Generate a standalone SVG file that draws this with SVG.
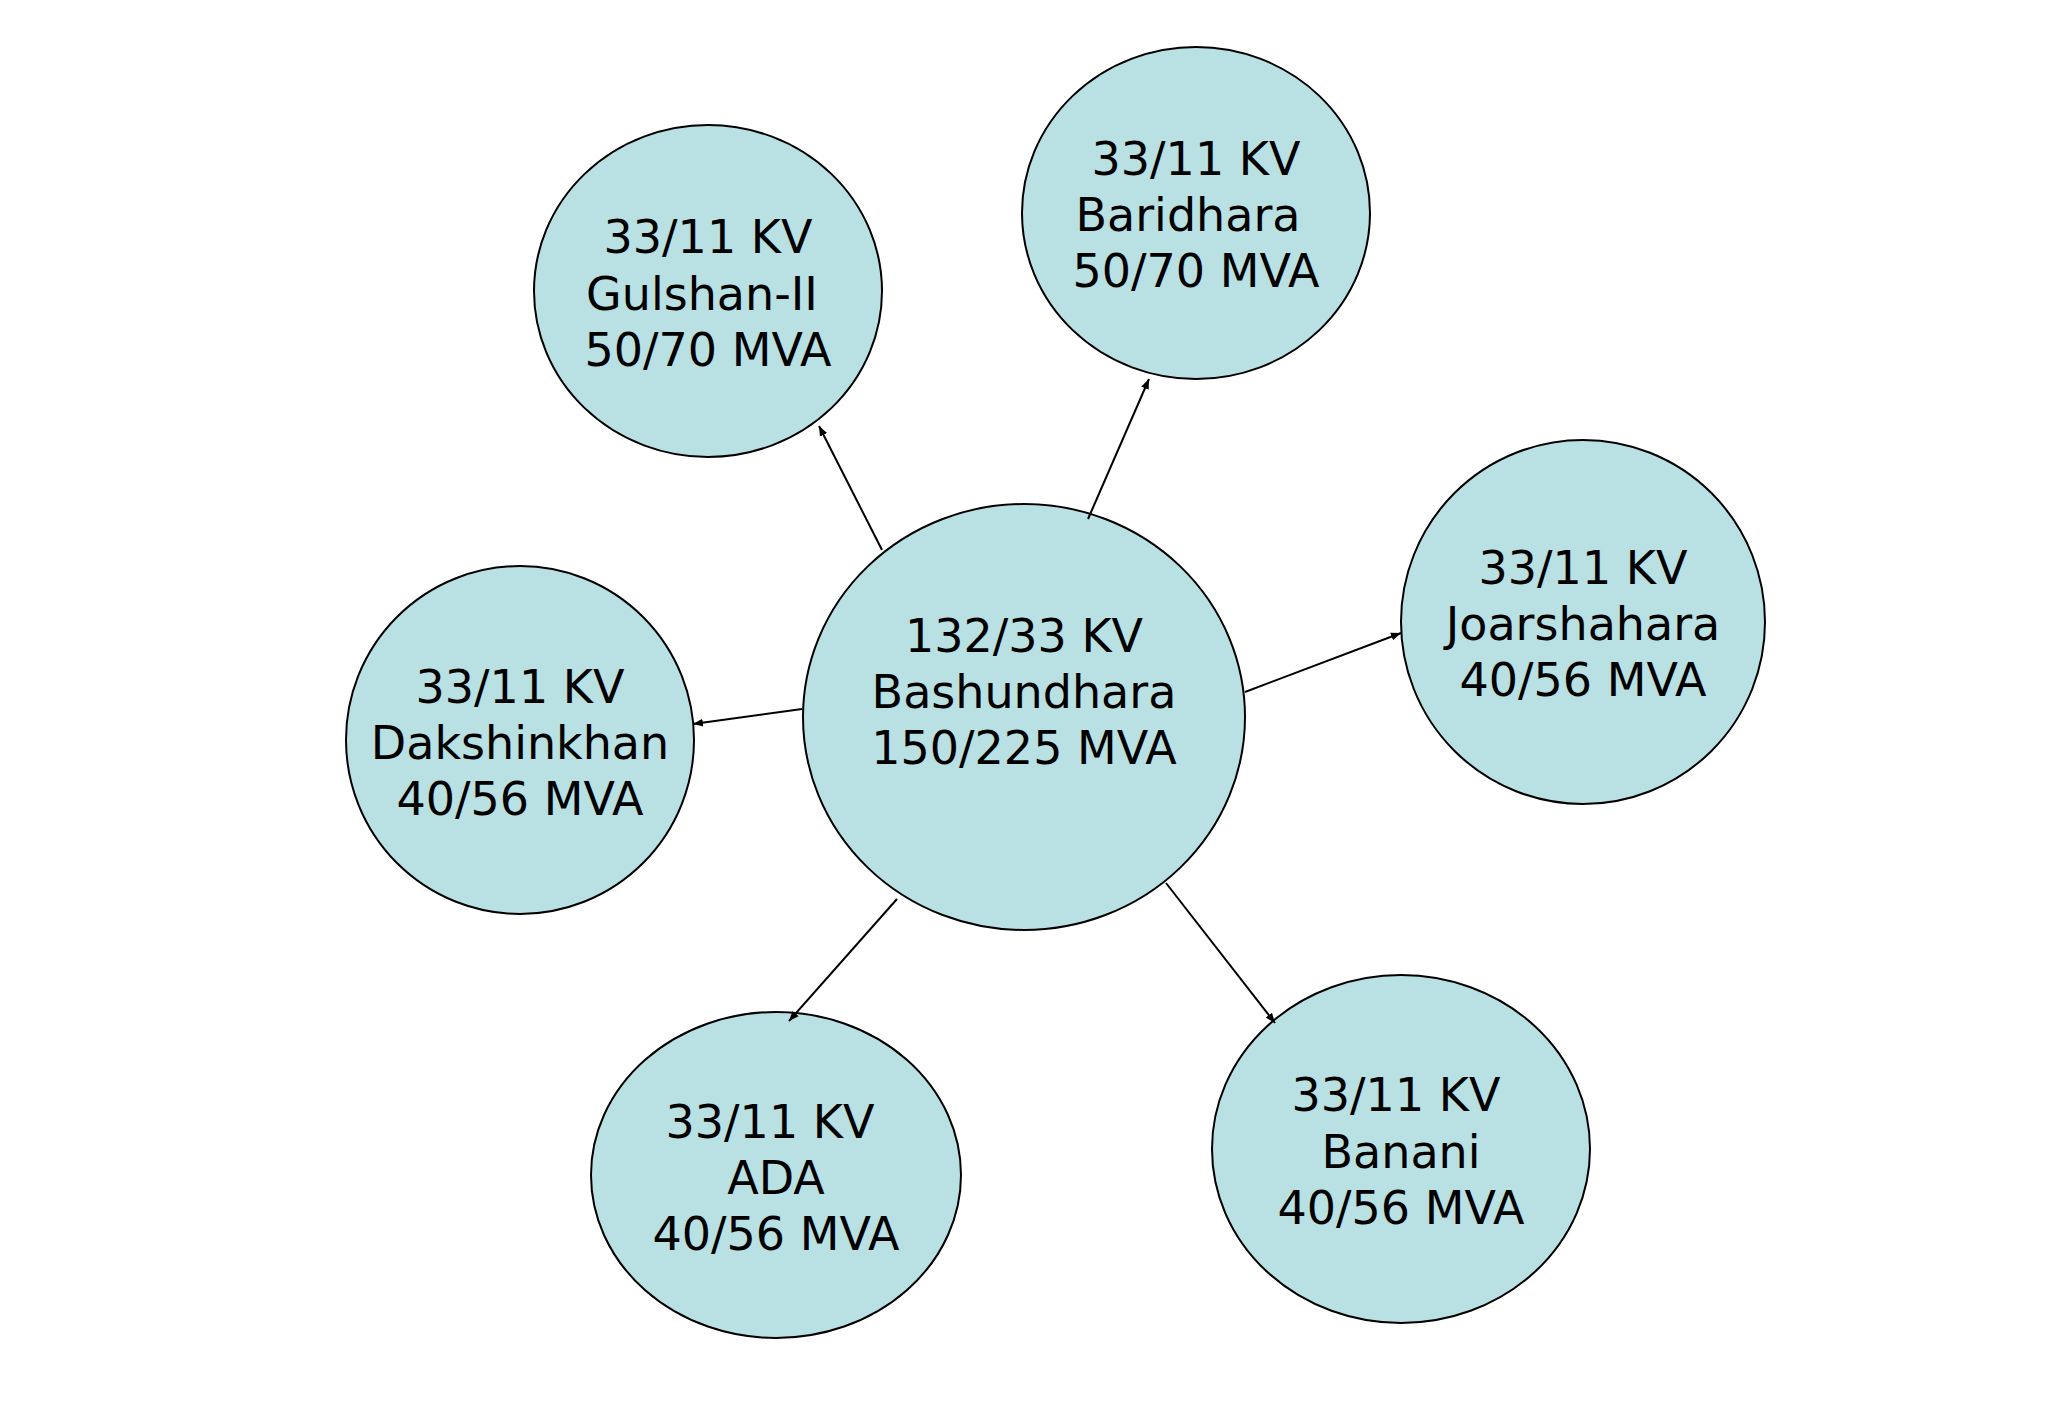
<svg xmlns="http://www.w3.org/2000/svg" width="2048" height="1418" viewBox="0 0 2048 1418">
<style>
.n{fill:#b9e0e2;stroke:#000;stroke-width:2}
.t{font-family:"DejaVu Sans",Verdana,sans-serif;font-size:46px;fill:#000;text-anchor:middle}
.c{stroke:#000;stroke-width:2;fill:none;marker-end:url(#a)}
</style>
<defs><marker id="a" viewBox="0 0 10 10" refX="10" refY="5" markerWidth="10" markerHeight="10" markerUnits="userSpaceOnUse" orient="auto"><path d="M0,1 L10,5 L0,9 z" fill="#000"/></marker></defs>
<rect width="2048" height="1418" fill="#fff"/>
<g id="center"><ellipse class="n" cx="1024" cy="717" rx="221" ry="213"/><text class="t" x="1024" y="652">132/33 KV</text><text class="t" x="1024" y="708">Bashundhara</text><text class="t" x="1024" y="764">150/225 MVA</text></g>
<g id="gulshan"><ellipse class="n" cx="708" cy="291" rx="174" ry="166"/><text class="t" x="708" y="253">33/11 KV</text><text class="t" x="702" y="310">Gulshan-II</text><text class="t" x="708" y="366">50/70 MVA</text></g>
<g id="baridhara"><ellipse class="n" cx="1196" cy="213" rx="174" ry="166"/><text class="t" x="1196" y="175">33/11 KV</text><text class="t" x="1188" y="231">Baridhara</text><text class="t" x="1196" y="287">50/70 MVA</text></g>
<g id="joarshahara"><ellipse class="n" cx="1583" cy="622" rx="182" ry="182"/><text class="t" x="1583" y="584">33/11 KV</text><text class="t" x="1583" y="640">Joarshahara</text><text class="t" x="1583" y="696">40/56 MVA</text></g>
<g id="dakshinkhan"><ellipse class="n" cx="520" cy="740" rx="174" ry="174"/><text class="t" x="520" y="703">33/11 KV</text><text class="t" x="520" y="759">Dakshinkhan</text><text class="t" x="520" y="815">40/56 MVA</text></g>
<g id="ada"><ellipse class="n" cx="776" cy="1175" rx="185" ry="163"/><text class="t" x="770" y="1138">33/11 KV</text><text class="t" x="776" y="1194">ADA</text><text class="t" x="776" y="1250">40/56 MVA</text></g>
<g id="banani"><ellipse class="n" cx="1401" cy="1149" rx="189" ry="174"/><text class="t" x="1396" y="1111">33/11 KV</text><text class="t" x="1401" y="1168">Banani</text><text class="t" x="1401" y="1224">40/56 MVA</text></g>
<g id="connectors">
<line class="c" x1="882" y1="550" x2="819" y2="426"/>
<line class="c" x1="1088" y1="519" x2="1149" y2="379"/>
<line class="c" x1="1245" y1="692" x2="1401" y2="633"/>
<line class="c" x1="802" y1="709" x2="693" y2="724"/>
<line class="c" x1="897" y1="899" x2="789" y2="1021"/>
<line class="c" x1="1166" y1="883" x2="1275" y2="1023"/>
</g>
</svg>
